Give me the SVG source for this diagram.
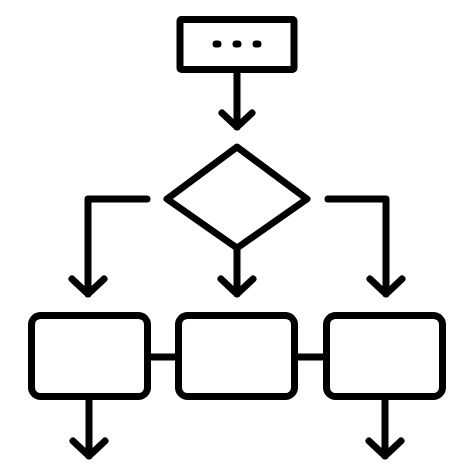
<svg xmlns="http://www.w3.org/2000/svg" width="474" height="474" viewBox="0 0 474 474">
<style>
.s{fill:none;stroke:#000;stroke-width:7;stroke-linecap:round;stroke-linejoin:round}
</style>
<rect width="474" height="474" fill="#fff"/>
<g id="start">
<rect class="s" x="180" y="19.5" width="114" height="50" rx="1.5"/>
<path class="s" d="M216 44h2M236 44h2M256 44h2"/>
</g>
<g id="decision">
<path class="s" d="M237 147L307 199L237 248L167 199Z"/>
</g>
<g id="box1"><rect class="s" x="31.5" y="315.5" width="116" height="81" rx="9"/></g>
<g id="box2"><rect class="s" x="178.5" y="315.5" width="116" height="81" rx="9"/></g>
<g id="box3"><rect class="s" x="326.5" y="315.5" width="116" height="81" rx="9"/></g>
<g id="connectors">
<path class="s" d="M237 70V127M222 113L237 127L252 113"/>
<path class="s" d="M237 250V294M221 279L237 294L253 279"/>
<path class="s" d="M147 199H88V294M72 279L88 294L104 279"/>
<path class="s" d="M328 199H386V294M370 279L386 294L402 279"/>
<path class="s" d="M148 357H178M295 357H326"/>
<path class="s" d="M89 400V456M73 441L89 456L105 441"/>
<path class="s" d="M385 400V456M369 441L385 456L401 441"/>
</g>
</svg>
